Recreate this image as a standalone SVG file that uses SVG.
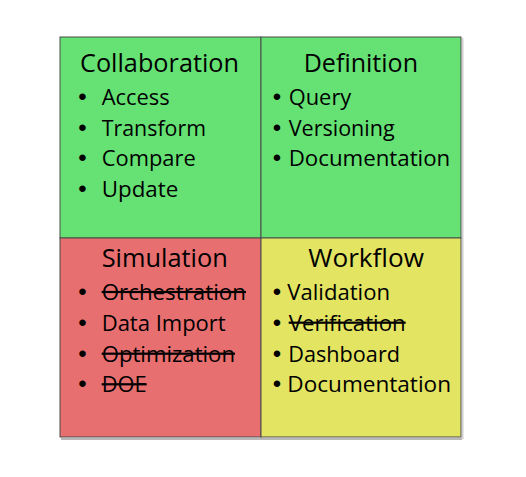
<svg xmlns="http://www.w3.org/2000/svg" width="526" height="477" viewBox="0 0 526 477">
  <style>
    .cell { stroke: #4a4a4a; stroke-width: 1; }
    .green { fill: #66E275; }
    .red { fill: #E86F6F; }
    .yellow { fill: #E3E462; }
    text { font-family: "Open Sans", "Noto Sans", "Liberation Sans", sans-serif; fill: #000; }
    .title { font-size: 25px; }
    .item { font-size: 22px; }
    .bul { font-family: "Liberation Sans", "Arial", sans-serif; font-size: 24px; text-anchor: middle; }
    .strike { text-decoration: line-through; }
  </style>
  <rect x="0" y="0" width="526" height="477" fill="#ffffff"/>
  <rect x="61" y="438" width="401" height="2" fill="#b8b8b8"/>
  <rect x="462" y="38" width="1.5" height="401" fill="#d0d0d0"/>

  <g id="collaboration">
    <rect class="cell green" x="60" y="37" width="201" height="201"/>
    <text class="title" x="80" y="72.3" textLength="159" lengthAdjust="spacingAndGlyphs">Collaboration</text>
    <text class="bul" x="82.5" y="105">•</text>
    <text class="item" x="101.7" y="105" textLength="68" lengthAdjust="spacingAndGlyphs">Access</text>
    <text class="bul" x="82.5" y="135.5">•</text>
    <text class="item" x="101.7" y="135.5" textLength="104.3" lengthAdjust="spacingAndGlyphs">Transform</text>
    <text class="bul" x="82.5" y="166">•</text>
    <text class="item" x="101.7" y="166" textLength="94" lengthAdjust="spacingAndGlyphs">Compare</text>
    <text class="bul" x="82.5" y="196.5">•</text>
    <text class="item" x="101.7" y="196.5" textLength="76.6" lengthAdjust="spacingAndGlyphs">Update</text>
  </g>

  <g id="definition">
    <rect class="cell green" x="261" y="37" width="200" height="201"/>
    <text class="title" x="303.7" y="72.3" textLength="114.3" lengthAdjust="spacingAndGlyphs">Definition</text>
    <text class="bul" x="277" y="105">•</text>
    <text class="item" x="288.7" y="105" textLength="62.6" lengthAdjust="spacingAndGlyphs">Query</text>
    <text class="bul" x="277" y="135.7">•</text>
    <text class="item" x="288.7" y="135.7" textLength="106" lengthAdjust="spacingAndGlyphs">Versioning</text>
    <text class="bul" x="277" y="166">•</text>
    <text class="item" x="288.7" y="166" textLength="161.6" lengthAdjust="spacingAndGlyphs">Documentation</text>
  </g>

  <g id="simulation">
    <rect class="cell red" x="60" y="238" width="201" height="199"/>
    <text class="title" x="101.7" y="267.3" textLength="126" lengthAdjust="spacingAndGlyphs">Simulation</text>
    <text class="bul" x="82.5" y="300">•</text>
    <text class="item strike" x="101.7" y="300" textLength="144.3" lengthAdjust="spacingAndGlyphs">Orchestration</text>
    <text class="bul" x="82.5" y="330.7">•</text>
    <text class="item" x="101.7" y="330.7" textLength="124" lengthAdjust="spacingAndGlyphs">Data Import</text>
    <text class="bul" x="82.5" y="361.7">•</text>
    <text class="item strike" x="101.7" y="361.7" textLength="133.3" lengthAdjust="spacingAndGlyphs">Optimization</text>
    <text class="bul" x="82.5" y="392.3">•</text>
    <text class="item strike" x="101.7" y="392.3" textLength="45" lengthAdjust="spacingAndGlyphs">DOE</text>
  </g>

  <g id="workflow">
    <rect class="cell yellow" x="261" y="238" width="200" height="199"/>
    <text class="title" x="308.3" y="266.7" textLength="115.7" lengthAdjust="spacingAndGlyphs">Workflow</text>
    <text class="bul" x="277" y="300">•</text>
    <text class="item" x="287.3" y="300" textLength="102.7" lengthAdjust="spacingAndGlyphs">Validation</text>
    <text class="bul" x="277" y="330.7">•</text>
    <text class="item strike" x="288.7" y="330.7" textLength="117" lengthAdjust="spacingAndGlyphs">Verification</text>
    <text class="bul" x="277" y="361.7">•</text>
    <text class="item" x="288.3" y="361.7" textLength="111.7" lengthAdjust="spacingAndGlyphs">Dashboard</text>
    <text class="bul" x="277" y="392.3">•</text>
    <text class="item" x="287.3" y="392.3" textLength="163.7" lengthAdjust="spacingAndGlyphs">Documentation</text>
  </g>
</svg>
